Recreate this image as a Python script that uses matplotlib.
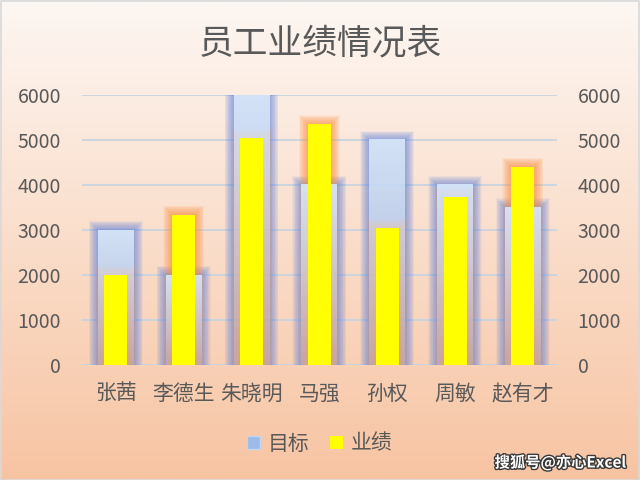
import matplotlib
matplotlib.use("Agg")
import matplotlib.pyplot as plt
import matplotlib.patheffects as pe
from matplotlib.patches import Patch, Rectangle
import numpy as np

plt.rcParams['font.family'] = ['Noto Sans CJK SC', 'DejaVu Sans']

# data
names = ['张茜', '李德生', '朱晓明', '马强', '孙权', '周敏', '赵有才']
target = [3000, 2000, 6000, 4000, 5000, 4000, 3500]
actual = [2000, 3340, 5050, 5350, 3040, 3740, 4400]
yticks = [0, 1000, 2000, 3000, 4000, 5000, 6000]

text_col = '#595959'

fig = plt.figure(figsize=(6.4, 4.8), dpi=100)

# peach gradient background over the whole figure
bg = fig.add_axes([0, 0, 1, 1], zorder=-10)
top_c = np.array([253, 247, 243]) / 255
bot_c = np.array([247, 196, 162]) / 255
t = np.linspace(0, 1, 256)[:, None, None]
grad = top_c[None, None, :] * (1 - t) + bot_c[None, None, :] * t
bg.imshow(grad, aspect='auto', extent=[0, 1, 0, 1])
bg.set_axis_off()
fig.patches.append(Rectangle((0.001, 0.001), 0.997, 0.996, transform=fig.transFigure,
                             fill=False, edgecolor='#d9d9d9', linewidth=1.2))

ax = fig.add_axes([0.128, 0.2396, 0.742, 0.5625])
ax.patch.set_alpha(0)
x = np.arange(len(names))
w_t = 0.53
w_a = 0.34
px_y = 6000 / 270.0   # data units per pixel vertically
px_x = 1 / 68.0       # data units per pixel horizontally

# soft glow behind bars
def glow(xc, w, h, color, steps=12, step_px=0.75, alpha=0.06):
    for k in range(steps, 0, -1):
        d = k * step_px
        ax.add_patch(Rectangle((xc - w / 2 - d * px_x, 0), w + 2 * d * px_x, h + d * px_y,
                               facecolor=color, edgecolor='none', alpha=alpha, zorder=2))

for i in range(len(names)):
    glow(x[i], w_t, target[i], '#5f82e0', alpha=0.07)
    # translucent blue gradient fill for target bars
    n = 100
    a = np.linspace(0.95, 0.2, n)[:, None]
    img = np.zeros((n, 1, 4))
    img[:, :, 0] = 0.84
    img[:, :, 1] = 0.90
    img[:, :, 2] = 0.97
    img[:, :, 3] = a
    ax.imshow(img, aspect='auto', extent=[x[i] - w_t / 2, x[i] + w_t / 2, 0, target[i]],
              zorder=3, interpolation='bilinear')

for i in range(len(names)):
    glow(x[i], w_a, actual[i], '#ff9040', alpha=0.08)
ax.bar(x, actual, width=w_a, color='#ffff00', zorder=5)

ax.set_xlim(-0.5, len(names) - 0.5)
ax.set_ylim(0, 6000)
ax.set_yticks(yticks)
for yv in yticks:
    ax.axhline(yv, color='#c9d3de', linewidth=1.3, zorder=1)
ax.set_xticks(x)
ax.set_xticklabels(names, fontsize=15, color=text_col)
ax.tick_params(axis='x', length=0, pad=13)
ax.tick_params(axis='y', length=0, pad=15, labelsize=14, labelcolor=text_col)
for s in ax.spines.values():
    s.set_visible(False)

ax2 = ax.twinx()
ax2.set_ylim(0, 6000)
ax2.set_yticks(yticks)
ax2.tick_params(axis='y', length=0, pad=15, labelsize=14, labelcolor=text_col)
for s in ax2.spines.values():
    s.set_visible(False)

fig.text(0.5, 0.908, '员工业绩情况表', ha='center', va='center', fontsize=25, color=text_col)

handles = [Patch(facecolor='#9dbbe8', edgecolor='#c5d6ef'), Patch(facecolor='#ffff00')]
fig.legend(handles, ['目标', '业绩'], loc='center', bbox_to_anchor=(0.5, 0.076), ncol=2,
           frameon=False, fontsize=15, labelcolor=text_col, handlelength=0.6,
           handleheight=0.6, handletextpad=0.4, columnspacing=1.0)

fig.text(0.978, 0.036, '搜狐号@亦心Excel', ha='right', va='center', fontsize=11,
         color='white', fontweight='bold',
         path_effects=[pe.withStroke(linewidth=2, foreground='#3a3a3a')])

plt.savefig('out.png', dpi=100)
